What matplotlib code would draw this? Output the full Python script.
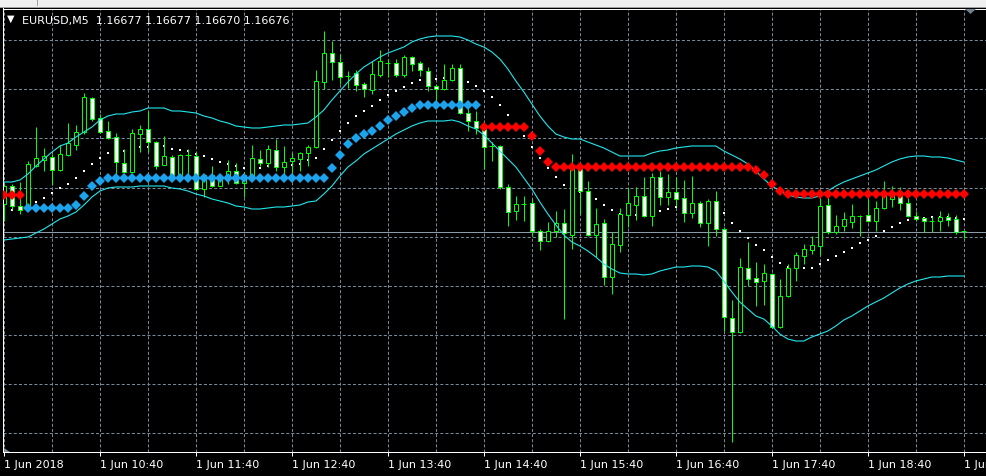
import matplotlib
matplotlib.use("Agg")
import matplotlib.pyplot as plt
from matplotlib.patches import Polygon, Rectangle
from matplotlib.lines import Line2D
import numpy as np

plt.rcParams['lines.scale_dashes'] = False
plt.rcParams['font.family'] = ['DejaVu Sans']

# EURUSD M5, 1 Jun 2018, bars from 09:40 to 19:40
open_ = [1.16704, 1.16722, 1.16702, 1.16700, 1.16742, 1.16748, 1.16751, 1.16738, 1.16753, 1.16763,
         1.16776, 1.16810, 1.16790, 1.16777, 1.16771, 1.16745, 1.16736, 1.16774, 1.16779, 1.16766,
         1.16743, 1.16751, 1.16733, 1.16753, 1.16752, 1.16719, 1.16733, 1.16722, 1.16729, 1.16737,
         1.16725, 1.16732, 1.16749, 1.16745, 1.16758, 1.16741, 1.16747, 1.16749, 1.16755, 1.16761,
         1.16826, 1.16855, 1.16846, 1.16832, 1.16835, 1.16824, 1.16818, 1.16833, 1.16845, 1.16845,
         1.16833, 1.16851, 1.16845, 1.16837, 1.16822, 1.16819, 1.16828, 1.16840, 1.16795, 1.16787,
         1.16780, 1.16762, 1.16762, 1.16721, 1.16697, 1.16704, 1.16705, 1.16677, 1.16667, 1.16677,
         1.16685, 1.16673, 1.16741, 1.16717, 1.16673, 1.16685, 1.16631, 1.16663, 1.16693, 1.16703,
         1.16712, 1.16692, 1.16731, 1.16711, 1.16716, 1.16710, 1.16695, 1.16705, 1.16685, 1.16707,
         1.16679, 1.16590, 1.16576, 1.16640, 1.16630, 1.16627, 1.16634, 1.16581, 1.16612, 1.16640,
         1.16652, 1.16658, 1.16662, 1.16703, 1.16676, 1.16682, 1.16686, 1.16692, 1.16693, 1.16687,
         1.16700, 1.16709, 1.16712, 1.16705, 1.16692, 1.16690, 1.16687, 1.16687, 1.16691, 1.16689,
         1.16677]
high_ = [1.16724, 1.16724, 1.16726, 1.16747, 1.16781, 1.16760, 1.16754, 1.16763, 1.16785, 1.16783,
         1.16815, 1.16811, 1.16794, 1.16787, 1.16775, 1.16759, 1.16779, 1.16783, 1.16797, 1.16767,
         1.16772, 1.16753, 1.16754, 1.16759, 1.16756, 1.16734, 1.16742, 1.16733, 1.16748, 1.16745,
         1.16736, 1.16763, 1.16758, 1.16763, 1.16769, 1.16762, 1.16755, 1.16756, 1.16763, 1.16838,
         1.16877, 1.16867, 1.16854, 1.16837, 1.16838, 1.16826, 1.16847, 1.16858, 1.16849, 1.16849,
         1.16853, 1.16852, 1.16847, 1.16841, 1.16824, 1.16844, 1.16844, 1.16844, 1.16799, 1.16797,
         1.16784, 1.16766, 1.16763, 1.16724, 1.16712, 1.16712, 1.16709, 1.16679, 1.16686, 1.16697,
         1.16699, 1.16754, 1.16744, 1.16727, 1.16700, 1.16689, 1.16676, 1.16700, 1.16720, 1.16721,
         1.16731, 1.16735, 1.16737, 1.16734, 1.16731, 1.16728, 1.16732, 1.16707, 1.16709, 1.16717,
         1.16681, 1.16608, 1.16650, 1.16666, 1.16646, 1.16644, 1.16635, 1.16629, 1.16644, 1.16656,
         1.16664, 1.16672, 1.16710, 1.16711, 1.16693, 1.16696, 1.16704, 1.16693, 1.16709, 1.16707,
         1.16727, 1.16722, 1.16721, 1.16710, 1.16697, 1.16691, 1.16691, 1.16697, 1.16695, 1.16693,
         1.16677]
low_ = [1.16687, 1.16699, 1.16694, 1.16697, 1.16741, 1.16737, 1.16723, 1.16737, 1.16752, 1.16758,
        1.16774, 1.16787, 1.16775, 1.16769, 1.16729, 1.16735, 1.16735, 1.16756, 1.16756, 1.16739,
        1.16743, 1.16732, 1.16732, 1.16731, 1.16718, 1.16711, 1.16721, 1.16722, 1.16724, 1.16724,
        1.16711, 1.16731, 1.16742, 1.16741, 1.16737, 1.16731, 1.16732, 1.16737, 1.16742, 1.16760,
        1.16819, 1.16828, 1.16824, 1.16820, 1.16817, 1.16811, 1.16814, 1.16831, 1.16831, 1.16831,
        1.16831, 1.16837, 1.16832, 1.16817, 1.16805, 1.16818, 1.16827, 1.16794, 1.16777, 1.16774,
        1.16739, 1.16747, 1.16719, 1.16682, 1.16688, 1.16687, 1.16672, 1.16658, 1.16666, 1.16671,
        1.16589, 1.16659, 1.16694, 1.16672, 1.16651, 1.16623, 1.16614, 1.16656, 1.16681, 1.16688,
        1.16691, 1.16682, 1.16703, 1.16703, 1.16702, 1.16686, 1.16690, 1.16681, 1.16662, 1.16672,
        1.16577, 1.16466, 1.16575, 1.16622, 1.16602, 1.16603, 1.16580, 1.16580, 1.16611, 1.16627,
        1.16644, 1.16654, 1.16653, 1.16674, 1.16674, 1.16677, 1.16680, 1.16672, 1.16686, 1.16677,
        1.16699, 1.16701, 1.16698, 1.16691, 1.16687, 1.16676, 1.16676, 1.16677, 1.16682, 1.16674,
        1.16670]
close_ = [1.16722, 1.16702, 1.16698, 1.16744, 1.16750, 1.16752, 1.16738, 1.16754, 1.16765, 1.16776,
          1.16811, 1.16789, 1.16776, 1.16770, 1.16746, 1.16736, 1.16775, 1.16779, 1.16766, 1.16742,
          1.16752, 1.16733, 1.16753, 1.16753, 1.16719, 1.16733, 1.16722, 1.16730, 1.16737, 1.16725,
          1.16733, 1.16750, 1.16745, 1.16759, 1.16741, 1.16746, 1.16750, 1.16755, 1.16761, 1.16827,
          1.16855, 1.16846, 1.16831, 1.16832, 1.16823, 1.16819, 1.16834, 1.16847, 1.16845, 1.16833,
          1.16851, 1.16844, 1.16838, 1.16822, 1.16819, 1.16828, 1.16840, 1.16795, 1.16787, 1.16780,
          1.16761, 1.16761, 1.16721, 1.16696, 1.16704, 1.16704, 1.16677, 1.16667, 1.16677, 1.16685,
          1.16675, 1.16742, 1.16717, 1.16673, 1.16684, 1.16631, 1.16664, 1.16694, 1.16705, 1.16712,
          1.16692, 1.16731, 1.16711, 1.16716, 1.16709, 1.16695, 1.16705, 1.16685, 1.16707, 1.16679,
          1.16591, 1.16576, 1.16641, 1.16629, 1.16626, 1.16635, 1.16581, 1.16612, 1.16640, 1.16653,
          1.16659, 1.16663, 1.16702, 1.16676, 1.16682, 1.16689, 1.16692, 1.16692, 1.16687, 1.16700,
          1.16714, 1.16714, 1.16705, 1.16692, 1.16689, 1.16687, 1.16687, 1.16691, 1.16688, 1.16676,
          1.16676]

# bands: upper / middle (dotted) / lower
band_up = [1.16726, 1.16726, 1.16728, 1.16734, 1.16742, 1.16749, 1.16756, 1.16762, 1.16765, 1.16771,
           1.16776, 1.16781, 1.16788, 1.16792, 1.16794, 1.16794, 1.16796, 1.16797, 1.16800, 1.16800,
           1.16800, 1.16797, 1.16797, 1.16796, 1.16795, 1.16792, 1.16790, 1.16787, 1.16785, 1.16782,
           1.16781, 1.16780, 1.16780, 1.16781, 1.16782, 1.16783, 1.16783, 1.16784, 1.16785, 1.16791,
           1.16798, 1.16808, 1.16817, 1.16826, 1.16834, 1.16841, 1.16846, 1.16851, 1.16855, 1.16858,
           1.16861, 1.16866, 1.16869, 1.16871, 1.16872, 1.16872, 1.16872, 1.16871, 1.16868, 1.16864,
           1.16861, 1.16856, 1.16849, 1.16839, 1.16827, 1.16816, 1.16804, 1.16792, 1.16782, 1.16774,
           1.16771, 1.16769, 1.16769, 1.16766, 1.16763, 1.16760, 1.16756, 1.16752, 1.16752, 1.16752,
           1.16752, 1.16755, 1.16757, 1.16758, 1.16760, 1.16761, 1.16762, 1.16762, 1.16762, 1.16762,
           1.16757, 1.16753, 1.16749, 1.16744, 1.16737, 1.16729, 1.16722, 1.16717, 1.16713, 1.16711,
           1.16710, 1.16710, 1.16712, 1.16717, 1.16722, 1.16726, 1.16729, 1.16732, 1.16735, 1.16738,
           1.16742, 1.16746, 1.16749, 1.16751, 1.16752, 1.16752, 1.16751, 1.16751, 1.16750, 1.16748,
           1.16746]
band_mid = [1.16697, 1.16698, 1.16700, 1.16703, 1.16706, 1.16710, 1.16715, 1.16720, 1.16724, 1.16730,
            1.16737, 1.16744, 1.16750, 1.16755, 1.16757, 1.16757, 1.16758, 1.16761, 1.16761, 1.16762,
            1.16762, 1.16759, 1.16758, 1.16757, 1.16754, 1.16752, 1.16749, 1.16746, 1.16744, 1.16742,
            1.16740, 1.16740, 1.16740, 1.16742, 1.16742, 1.16743, 1.16743, 1.16744, 1.16748, 1.16750,
            1.16759, 1.16768, 1.16777, 1.16785, 1.16792, 1.16797, 1.16802, 1.16808, 1.16813, 1.16817,
            1.16821, 1.16825, 1.16828, 1.16829, 1.16829, 1.16830, 1.16830, 1.16829, 1.16826, 1.16822,
            1.16817, 1.16811, 1.16803, 1.16793, 1.16782, 1.16772, 1.16761, 1.16750, 1.16740, 1.16731,
            1.16723, 1.16719, 1.16716, 1.16713, 1.16709, 1.16703, 1.16698, 1.16694, 1.16693, 1.16693,
            1.16694, 1.16695, 1.16697, 1.16699, 1.16701, 1.16702, 1.16702, 1.16702, 1.16702, 1.16700,
            1.16695, 1.16685, 1.16677, 1.16670, 1.16663, 1.16658, 1.16651, 1.16645, 1.16641, 1.16640,
            1.16640, 1.16640, 1.16644, 1.16648, 1.16652, 1.16656, 1.16660, 1.16665, 1.16668, 1.16672,
            1.16677, 1.16681, 1.16685, 1.16688, 1.16690, 1.16690, 1.16691, 1.16691, 1.16691, 1.16690,
            1.16689]
band_lo = [1.16668, 1.16669, 1.16670, 1.16671, 1.16675, 1.16679, 1.16684, 1.16689, 1.16692, 1.16696,
           1.16703, 1.16711, 1.16717, 1.16720, 1.16721, 1.16721, 1.16721, 1.16722, 1.16722, 1.16722,
           1.16722, 1.16720, 1.16719, 1.16717, 1.16714, 1.16712, 1.16709, 1.16707, 1.16705, 1.16702,
           1.16701, 1.16699, 1.16699, 1.16700, 1.16701, 1.16701, 1.16702, 1.16703, 1.16706, 1.16707,
           1.16714, 1.16722, 1.16732, 1.16741, 1.16747, 1.16754, 1.16759, 1.16764, 1.16769, 1.16774,
           1.16778, 1.16782, 1.16785, 1.16787, 1.16787, 1.16787, 1.16788, 1.16786, 1.16782, 1.16779,
           1.16773, 1.16765, 1.16757, 1.16749, 1.16741, 1.16730, 1.16719, 1.16706, 1.16694, 1.16683,
           1.16673, 1.16666, 1.16662, 1.16657, 1.16651, 1.16644, 1.16639, 1.16635, 1.16634, 1.16634,
           1.16633, 1.16634, 1.16637, 1.16639, 1.16641, 1.16641, 1.16642, 1.16642, 1.16641, 1.16637,
           1.16627, 1.16616, 1.16606, 1.16599, 1.16592, 1.16589, 1.16582, 1.16574, 1.16569, 1.16567,
           1.16567, 1.16571, 1.16574, 1.16577, 1.16582, 1.16588, 1.16592, 1.16597, 1.16602, 1.16606,
           1.16610, 1.16615, 1.16620, 1.16624, 1.16627, 1.16629, 1.16631, 1.16631, 1.16632, 1.16632,
           1.16632]

# trailing stop diamonds: blue = up trend, red = down trend
stop_level = ([1.16713] * 3 + [1.16700] * 6 + [1.16703, 1.16712, 1.16722, 1.16727] + [1.16730] * 28
              + [1.16740, 1.16753, 1.16764, 1.16770, 1.16774, 1.16777, 1.16782, 1.16788, 1.16792,
                 1.16796, 1.16800] + [1.16803] * 8 + [1.16781] * 6 + [1.16772, 1.16757, 1.16746]
              + [1.16741] * 25 + [1.16738, 1.16733, 1.16724, 1.16717] + [1.16714] * 23)
stop_up = [False] * 3 + [True] * 57 + [False] * 61

time_labels = ['1 Jun 2018', '1 Jun 10:40', '1 Jun 11:40', '1 Jun 12:40', '1 Jun 13:40',
               '1 Jun 14:40', '1 Jun 15:40', '1 Jun 16:40', '1 Jun 17:40', '1 Jun 18:40',
               '1 Jun 19:40']
price_grid = [1.16868, 1.16819, 1.16770, 1.16720, 1.16671, 1.16622, 1.16573, 1.16524, 1.16475]
bid = 1.16676

W, H = 987, 477
PX = 0.72  # one pixel in points at dpi 100


def fx(x):
    return x / W


def fy(y):
    return 1 - y / H


fig = plt.figure(figsize=(W / 100, H / 100), dpi=100, facecolor='black')

# window chrome on top
fig.patches.append(Rectangle((0, fy(7.7)), 1, 7.7 / H, transform=fig.transFigure,
                             facecolor='#f0f0f0', edgecolor='none'))
fig.lines.append(Line2D([0, 1], [fy(8.3), fy(8.3)], transform=fig.transFigure,
                        color='#a0a0a0', lw=PX))
fig.lines.append(Line2D([fx(36.5), fx(36.5)], [fy(0), fy(6)], transform=fig.transFigure,
                        color='#a0a0a0', lw=PX))

ax = fig.add_axes([fx(3.5), fy(453), fx(987 - 3.5), (453 - 9.5) / H])
ax.set_facecolor('black')
idx = np.arange(len(open_))
o = np.array(open_)
h = np.array(high_)
l = np.array(low_)
c = np.array(close_)

ax.set_xlim(-0.06, 122.9)
ax.set_ylim(1.16456, 1.168995)

for s in ['left', 'top', 'bottom']:
    ax.spines[s].set_color('white')
    ax.spines[s].set_linewidth(PX)
ax.spines['right'].set_visible(False)

ax.set_xticks(np.arange(0, 121, 12))
ax.set_xticks(np.arange(6, 121, 12), minor=True)
ax.set_yticks(price_grid)
ax.tick_params(axis='x', which='major', length=3, width=PX, color='white',
               direction='out', labelbottom=False)
ax.tick_params(axis='x', which='minor', length=0, labelbottom=False)
ax.tick_params(axis='y', length=0, labelleft=False)
ax.set_axisbelow(True)
ax.grid(which='both', color='#778899', lw=PX, linestyle=(0, (2.2, 1.5)))

# time labels; the last one runs off the right edge as in the terminal
for t, lab in zip(ax.get_xticks(), time_labels):
    ax.text(t, -0.0338, lab, transform=ax.get_xaxis_transform(), color='white',
            fontsize=8, ha='left', va='baseline', clip_on=False)

ax.axhline(bid, color='#8c99a6', lw=PX, zorder=1)

# middle line as dots
ax.plot(idx, band_mid, 's', color='white', ms=1.8, mew=0, zorder=1.5)

# candles
ax.vlines(idx, l, h, color='#00ff00', lw=PX, zorder=2)
body = np.abs(c - o) >= 0.000015
fill = np.where(c > o, 'black', 'white')
ax.bar(idx[body], np.abs(c - o)[body], bottom=np.minimum(o, c)[body], width=0.56,
       color=fill[body], edgecolor='#00ff00', linewidth=PX, zorder=2.5)
ax.hlines(o[~body], idx[~body] - 0.32, idx[~body] + 0.32, color='#00ff00', lw=PX, zorder=2.5)

# bands
ax.plot(idx, band_up, color='#22e6ee', lw=0.8, zorder=3)
ax.plot(idx, band_lo, color='#22e6ee', lw=0.8, zorder=3)

# diamonds
up = np.array(stop_up)
lvl = np.array(stop_level)
ax.plot(idx[up], lvl[up], 'D', color='#1ca3ec', ms=4.6, mew=0, zorder=4)
ax.plot(idx[~up], lvl[~up], 'D', color='#ff0000', ms=4.6, mew=0, zorder=4)

# title
fig.text(fx(7), fy(21.5), '\u25bc', color='white', fontsize=7, ha='left', va='baseline')
fig.text(fx(22), fy(24), 'EURUSD,M5  1.16677 1.16677 1.16670 1.16676', color='white',
         fontsize=8, ha='left', va='baseline')

# small markers
fig.patches.append(Polygon([(fx(965), fy(10)), (fx(976), fy(10)), (fx(970.5), fy(15))],
                           closed=True, transform=fig.transFigure, facecolor='#708090',
                           edgecolor='none'))
fig.patches.append(Polygon([(fx(4), fy(449)), (fx(4), fy(453)), (fx(10), fy(453))],
                           closed=True, transform=fig.transFigure, facecolor='#8090a0',
                           edgecolor='none'))

fig.savefig('out.png', dpi=100, facecolor='black')
